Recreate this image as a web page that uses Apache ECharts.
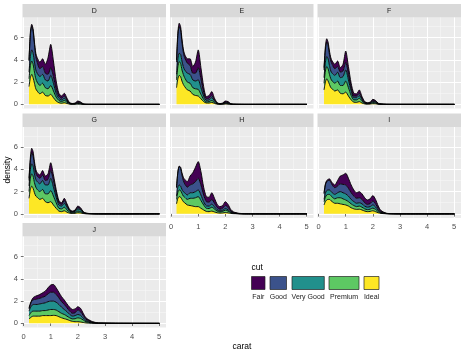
<!DOCTYPE html>
<html><head><meta charset="utf-8">
<script src="https://cdn.jsdelivr.net/npm/echarts@6/dist/echarts.min.js"></script>
<style>html,body{margin:0;padding:0;background:#fff}#c{width:474px;height:355px}</style>
</head><body><div id="c"></div>
<script>
// ---- data ----
const carat = [0.2,0.25,0.3,0.35,0.4,0.45,0.5,0.6,0.7,0.8,0.9,1.0,1.1,1.2,1.3,1.4,1.5,1.6,1.7,1.8,1.9,2.0,2.1,2.2,2.3,2.5,2.7,3.0,3.5,5.01];
const cuts = ['Fair','Good','Very Good','Premium','Ideal'];
const facets = ['D','E','F','G','H','I','J'];
const xTicks = [0,1,2,3,4,5];
const yTicks = [0,2,4,6];
const xMinor = [0.5,1.5,2.5,3.5,4.5];
const yMinor = [1,3,5,7];

const D_ideal    = [1.6,2.4,2.7,2.4,1.9,1.4,1.2,0.95,1.1,0.8,0.75,0.9,0.6,0.3,0.15,0.1,0.15,0.08,0.02,0.01,0.01,0.02,0.01,0,0,0,0,0,0,0];
const D_premium  = [0.7,1.1,1.2,1.2,1.0,0.9,0.8,0.75,0.8,0.7,0.65,0.8,0.6,0.35,0.2,0.15,0.2,0.12,0.03,0.02,0.03,0.06,0.05,0.01,0,0,0,0,0,0];
const D_verygood = [0.6,0.8,1.0,1.0,0.9,0.8,0.8,0.8,0.8,0.7,0.7,0.9,0.7,0.35,0.2,0.15,0.2,0.1,0.03,0.01,0.02,0.06,0.04,0.01,0,0,0,0,0,0];
const D_good     = [1.0,2.0,2.1,2.0,1.6,1.2,1.0,0.7,0.7,0.6,0.6,0.7,0.6,0.4,0.2,0.15,0.2,0.1,0.03,0.01,0.02,0.06,0.05,0.01,0,0,0,0,0,0];
const D_fair     = [0.1,0.2,0.2,0.2,0.2,0.3,0.4,0.6,0.7,0.8,1.5,2.1,1.4,0.7,0.25,0.2,0.25,0.15,0.04,0.03,0.04,0.1,0.07,0.02,0.01,0,0,0,0,0];

const E_ideal    = [1.5,2.3,2.6,2.5,2.1,1.8,1.6,1.3,1.2,0.9,0.8,0.75,0.5,0.25,0.12,0.12,0.18,0.08,0.02,0.01,0.01,0.03,0.02,0,0,0,0,0,0,0];
const E_premium  = [0.7,1.1,1.25,1.2,1.0,0.9,0.8,0.7,0.7,0.6,0.6,0.6,0.4,0.2,0.1,0.13,0.17,0.09,0.03,0.01,0.02,0.05,0.04,0.01,0,0,0,0,0,0];
const E_verygood = [0.5,0.7,0.75,0.8,0.8,0.7,0.7,0.8,0.8,0.7,0.7,0.85,0.6,0.3,0.13,0.15,0.25,0.13,0.03,0.02,0.03,0.07,0.06,0.02,0.01,0,0,0,0,0];
const E_good     = [1.1,2.1,2.4,2.2,1.7,1.3,1.1,0.9,0.8,0.6,0.7,1.1,0.8,0.35,0.15,0.15,0.2,0.1,0.03,0.01,0.02,0.05,0.05,0.01,0,0,0,0,0,0];
const E_fair     = [0.2,0.3,0.3,0.3,0.3,0.3,0.3,0.4,0.6,0.6,1.0,1.6,1.0,0.5,0.2,0.25,0.35,0.15,0.04,0.02,0.04,0.1,0.08,0.02,0.01,0.01,0,0,0,0];

const F_ideal    = [1.3,2.0,2.3,2.1,1.8,1.5,1.4,1.2,1.3,1.0,0.95,1.1,0.75,0.4,0.2,0.18,0.25,0.12,0.04,0.02,0.03,0.06,0.05,0.01,0,0,0,0,0,0];
const F_premium  = [0.6,1.0,1.1,1.1,0.9,0.8,0.7,0.7,0.8,0.7,0.75,1.0,0.75,0.4,0.2,0.22,0.3,0.16,0.05,0.03,0.04,0.1,0.07,0.02,0.01,0,0,0,0,0];
const F_verygood = [0.5,0.8,0.9,0.9,0.8,0.7,0.7,0.7,0.8,0.7,0.8,1.0,0.7,0.4,0.2,0.2,0.25,0.14,0.05,0.03,0.04,0.09,0.07,0.02,0.01,0,0,0,0,0];
const F_good     = [0.7,1.1,1.3,1.2,1.0,0.9,0.8,0.6,0.5,0.5,0.5,0.7,0.5,0.3,0.15,0.15,0.2,0.13,0.05,0.03,0.04,0.08,0.07,0.02,0.01,0,0,0,0,0];
const F_fair     = [0.2,0.3,0.3,0.3,0.3,0.3,0.3,0.4,0.5,0.4,0.6,1.0,0.7,0.4,0.25,0.2,0.3,0.15,0.06,0.04,0.05,0.12,0.09,0.03,0.01,0.01,0,0,0,0];

const G_ideal    = [1.4,2.2,2.5,2.3,1.9,1.6,1.5,1.3,1.4,1.1,1.0,1.1,0.8,0.5,0.25,0.2,0.28,0.15,0.06,0.04,0.05,0.1,0.08,0.03,0.01,0,0,0,0,0];
const G_premium  = [0.6,1.0,1.1,1.1,0.9,0.8,0.7,0.7,0.8,0.7,0.8,1.0,0.8,0.5,0.25,0.25,0.32,0.2,0.09,0.05,0.07,0.15,0.12,0.04,0.01,0.01,0,0,0,0];
const G_verygood = [0.5,0.8,0.9,0.9,0.8,0.7,0.7,0.7,0.8,0.8,0.8,1.1,0.8,0.5,0.3,0.25,0.35,0.25,0.11,0.07,0.1,0.2,0.16,0.06,0.02,0,0,0,0,0];
const G_good     = [0.5,0.8,1.0,0.9,0.8,0.6,0.5,0.5,0.5,0.4,0.5,0.7,0.6,0.4,0.2,0.15,0.25,0.15,0.07,0.04,0.06,0.12,0.09,0.03,0.01,0.01,0,0,0,0];
const G_fair     = [0.2,0.3,0.4,0.4,0.3,0.3,0.3,0.3,0.4,0.4,0.5,0.7,0.5,0.3,0.2,0.15,0.2,0.15,0.07,0.05,0.07,0.13,0.1,0.04,0.02,0,0.01,0,0,0];

const H_ideal    = [0.9,1.4,1.55,1.5,1.3,1.1,1.0,0.8,0.75,0.7,0.65,0.65,0.5,0.35,0.22,0.2,0.25,0.17,0.1,0.07,0.08,0.12,0.09,0.04,0.02,0.01,0,0,0,0];
const H_premium  = [0.4,0.55,0.6,0.6,0.55,0.5,0.5,0.5,0.65,0.7,0.8,0.9,0.7,0.45,0.28,0.28,0.35,0.26,0.15,0.11,0.14,0.21,0.16,0.07,0.03,0,0,0,0,0];
const H_verygood = [0.3,0.45,0.45,0.4,0.35,0.4,0.4,0.4,0.5,0.5,0.55,0.6,0.5,0.3,0.22,0.22,0.27,0.2,0.12,0.09,0.1,0.15,0.12,0.06,0.02,0.01,0,0,0,0];
const H_good     = [0.75,1.35,1.65,1.6,1.3,1.0,0.8,0.7,0.7,0.8,0.9,1.05,0.9,0.6,0.38,0.35,0.43,0.32,0.2,0.15,0.18,0.27,0.21,0.1,0.05,0.01,0.01,0,0,0];
const H_fair     = [0.05,0.05,0.05,0.1,0.2,0.3,0.4,0.5,0.8,1.0,1.3,1.5,1.2,0.7,0.45,0.45,0.6,0.45,0.28,0.23,0.25,0.35,0.27,0.13,0.06,0.02,0.01,0.01,0,0];

const I_ideal    = [0.8,1.1,1.25,1.3,1.3,1.2,1.1,0.95,0.95,0.9,0.85,0.8,0.7,0.55,0.45,0.4,0.42,0.35,0.25,0.2,0.22,0.28,0.2,0.1,0.04,0.01,0,0,0,0];
const I_premium  = [0.3,0.4,0.45,0.45,0.45,0.45,0.4,0.4,0.5,0.55,0.5,0.45,0.4,0.35,0.3,0.25,0.28,0.25,0.2,0.18,0.2,0.24,0.2,0.1,0.04,0.01,0.01,0,0,0];
const I_verygood = [0.2,0.35,0.4,0.4,0.4,0.4,0.4,0.4,0.45,0.55,0.55,0.55,0.5,0.4,0.35,0.3,0.3,0.3,0.25,0.22,0.23,0.28,0.22,0.12,0.05,0.01,0,0,0,0];
const I_good     = [0.5,0.75,0.8,0.85,0.85,0.8,0.7,0.6,0.6,0.7,0.75,0.8,0.7,0.6,0.5,0.45,0.45,0.4,0.3,0.25,0.27,0.35,0.28,0.16,0.07,0.01,0,0,0,0];
const I_fair     = [0.1,0.1,0.1,0.1,0.15,0.15,0.2,0.25,0.5,0.7,0.85,1.05,0.9,0.7,0.55,0.5,0.55,0.5,0.45,0.4,0.43,0.5,0.4,0.22,0.1,0.02,0.01,0.01,0,0];

const J_ideal    = [0.4,0.5,0.6,0.65,0.65,0.65,0.65,0.65,0.7,0.7,0.7,0.7,0.72,0.7,0.6,0.5,0.42,0.35,0.25,0.18,0.15,0.15,0.12,0.08,0.04,0.01,0,0,0,0];
const J_premium  = [0.3,0.4,0.45,0.45,0.45,0.45,0.45,0.45,0.45,0.45,0.5,0.55,0.53,0.5,0.45,0.4,0.38,0.3,0.25,0.22,0.27,0.35,0.33,0.22,0.11,0.04,0.01,0,0,0];
const J_verygood = [0.4,0.5,0.55,0.6,0.6,0.6,0.6,0.65,0.65,0.7,0.75,0.75,0.75,0.7,0.65,0.55,0.45,0.4,0.3,0.25,0.28,0.3,0.27,0.18,0.1,0.04,0.01,0.01,0,0];
const J_good     = [0.2,0.3,0.4,0.4,0.45,0.45,0.5,0.5,0.55,0.6,0.7,0.8,0.8,0.7,0.6,0.5,0.45,0.35,0.3,0.25,0.25,0.4,0.33,0.22,0.13,0.05,0.02,0.01,0.01,0];
const J_fair     = [0.1,0.1,0.1,0.2,0.25,0.3,0.3,0.35,0.4,0.45,0.55,0.65,0.7,0.6,0.5,0.45,0.4,0.35,0.35,0.35,0.35,0.3,0.3,0.2,0.12,0.06,0.02,0.01,0,0];

// ---- styling / layout ----
const cutColors = {'Fair':'#440154','Good':'#3B528B','Very Good':'#21908C','Premium':'#5DC863','Ideal':'#FDE725'};
const FONT = '"Liberation Sans", Arial, sans-serif';
const panelData = {
  D:{'Fair':D_fair,'Good':D_good,'Very Good':D_verygood,'Premium':D_premium,'Ideal':D_ideal},
  E:{'Fair':E_fair,'Good':E_good,'Very Good':E_verygood,'Premium':E_premium,'Ideal':E_ideal},
  F:{'Fair':F_fair,'Good':F_good,'Very Good':F_verygood,'Premium':F_premium,'Ideal':F_ideal},
  G:{'Fair':G_fair,'Good':G_good,'Very Good':G_verygood,'Premium':G_premium,'Ideal':G_ideal},
  H:{'Fair':H_fair,'Good':H_good,'Very Good':H_verygood,'Premium':H_premium,'Ideal':H_ideal},
  I:{'Fair':I_fair,'Good':I_good,'Very Good':I_verygood,'Premium':I_premium,'Ideal':I_ideal},
  J:{'Fair':J_fair,'Good':J_good,'Very Good':J_verygood,'Premium':J_premium,'Ideal':J_ideal}
};
const W = 143.5, H = 91, STRIP = 13.5;
const colsX = [22.5, 170, 317.5], rowsY = [17.5, 127, 236.5];
const XMIN = -0.0405, XMAX = 5.2505, YMIN = -0.372, YMAX = 7.814;
const showX = {H:true, I:true, J:true};
const showY = {D:true, G:true, J:true};

const grid = [], xAxis = [], yAxis = [], series = [], graphic = [];
facets.forEach((f, i) => {
  const left = colsX[i % 3], top = rowsY[Math.floor(i / 3)];
  grid.push({left, top, width: W, height: H, show: true, backgroundColor: '#EBEBEB', borderWidth: 0});
  graphic.push({type:'rect', shape:{x:left, y:top-STRIP, width:W, height:STRIP}, style:{fill:'#D9D9D9'}, silent:true});
  graphic.push({type:'text', x:left+W/2, y:top-STRIP/2, style:{text:f, fill:'#1A1A1A', font:'7px '+FONT, textAlign:'center', textVerticalAlign:'middle'}, silent:true});
});
// major axes
facets.forEach((f, i) => {
  xAxis.push({type:'value', gridIndex:i, min:XMIN, max:XMAX, axisLine:{show:false},
    axisTick:{show:!!showX[f], customValues:xTicks, length:2.75, lineStyle:{color:'#333', width:0.7}},
    axisLabel:{show:!!showX[f], customValues:xTicks, color:'#4D4D4D', fontSize:7.5, margin:5, fontFamily:FONT},
    splitLine:{show:true, lineStyle:{color:'#FFFFFF', width:1}}});
  yAxis.push({type:'value', gridIndex:i, min:YMIN, max:YMAX, axisLine:{show:false},
    axisTick:{show:!!showY[f], customValues:yTicks, length:2.75, lineStyle:{color:'#333', width:0.7}},
    axisLabel:{show:!!showY[f], customValues:yTicks, color:'#4D4D4D', fontSize:7.5, margin:4.5, fontFamily:FONT},
    splitLine:{show:true, lineStyle:{color:'#FFFFFF', width:1}}});
});
// minor axes
facets.forEach((f, i) => {
  xAxis.push({type:'value', gridIndex:i, min:XMIN, max:XMAX, axisLine:{show:false},
    axisTick:{show:false, customValues:xMinor}, axisLabel:{show:false, customValues:xMinor},
    splitLine:{show:true, lineStyle:{color:'#F8F8F8', width:0.5}}});
  yAxis.push({type:'value', gridIndex:i, min:YMIN, max:YMAX, axisLine:{show:false},
    axisTick:{show:false, customValues:yMinor}, axisLabel:{show:false, customValues:yMinor},
    splitLine:{show:true, lineStyle:{color:'#F8F8F8', width:0.5}}});
});
// series: stacked densities, Ideal at bottom, Fair on top.
// data stored as [density, carat] so that the stacked dimension is density.
const stackOrder = cuts.slice().reverse();
facets.forEach((f, i) => {
  stackOrder.forEach(c => {
    series.push({type:'line', name:c, xAxisIndex:i, yAxisIndex:i, stack:'s'+f,
      dimensions:['density','carat'], encode:{x:'carat', y:'density'},
      data: carat.map((x, k) => [panelData[f][c][k], x]),
      showSymbol:false, smooth:0.25, z:3,
      lineStyle:{color:'#000', width:0.9},
      areaStyle:{color:cutColors[c], opacity:1}});
  });
});
// axis titles
graphic.push({type:'text', x:242, y:347, style:{text:'carat', fill:'#000', font:'8.5px '+FONT, textAlign:'center', textVerticalAlign:'middle'}, silent:true});
graphic.push({type:'text', x:8, y:170, rotation:Math.PI/2, style:{text:'density', fill:'#000', font:'8.5px '+FONT, textAlign:'center', textVerticalAlign:'middle'}, silent:true});
// legend
graphic.push({type:'text', x:251.5, y:268, style:{text:'cut', fill:'#000', font:'8.5px '+FONT, textAlign:'left', textVerticalAlign:'middle'}, silent:true});
const keyBoxes = {'Fair':[251.5,13.5],'Good':[270,16.5],'Very Good':[292,32.3],'Premium':[329,30],'Ideal':[364,15]};
cuts.forEach(c => {
  const [bx, bw] = keyBoxes[c];
  graphic.push({type:'rect', shape:{x:bx, y:276.5, width:bw, height:13}, style:{fill:cutColors[c], stroke:'#222', lineWidth:0.7}, silent:true});
  graphic.push({type:'text', x:bx+bw/2, y:297.5, style:{text:c, fill:'#222', font:'7px '+FONT, textAlign:'center', textVerticalAlign:'middle'}, silent:true});
});

const chart = echarts.init(document.getElementById('c'), null, {renderer:'canvas'});
chart.setOption({animation:false, backgroundColor:'#FFFFFF', grid, xAxis, yAxis, series, graphic});
</script>
</body></html>
